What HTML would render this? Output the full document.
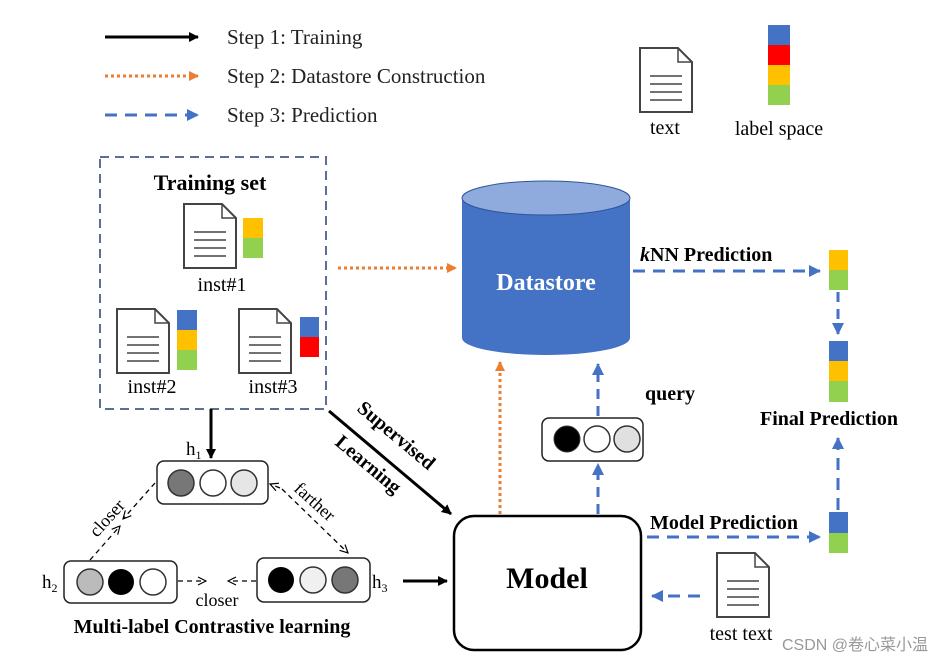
<!DOCTYPE html>
<html><head><meta charset="utf-8"><style>
html,body{margin:0;padding:0;background:#fff;}
svg{display:block;font-family:"Liberation Serif",serif;}
</style></head><body>
<svg width="931" height="662" viewBox="0 0 931 662" xmlns="http://www.w3.org/2000/svg">
<defs>
<marker id="ab" markerWidth="10" markerHeight="10" refX="9" refY="5" orient="auto" markerUnits="userSpaceOnUse"><path d="M0,0 L10,5 L0,10 z" fill="#000"/></marker>
<marker id="ao" markerWidth="10" markerHeight="10" refX="9" refY="5" orient="auto" markerUnits="userSpaceOnUse"><path d="M0,0 L10,5 L0,10 z" fill="#ed7d31"/></marker>
<marker id="al" markerWidth="12" markerHeight="12" refX="11" refY="6" orient="auto" markerUnits="userSpaceOnUse"><path d="M0,0 L12,6 L0,12 z" fill="#4472c4"/></marker>
<marker id="ad" markerWidth="10" markerHeight="10" refX="9" refY="5" orient="auto" markerUnits="userSpaceOnUse"><path d="M1,1 L9,5 L1,9" fill="none" stroke="#000" stroke-width="1.2"/></marker>
<g id="doc"><path d="M0,0 H38 L52,14 V64 H0 Z" fill="#fff" stroke="#444" stroke-width="2"/><path d="M38,0 V14 H52" fill="none" stroke="#444" stroke-width="1.5"/><g stroke="#444" stroke-width="1.5"><line x1="10" y1="28" x2="42" y2="28"/><line x1="10" y1="36" x2="42" y2="36"/><line x1="10" y1="44" x2="42" y2="44"/><line x1="10" y1="52" x2="42" y2="52"/></g></g>
</defs>
<!-- legend -->
<line x1="105" y1="37" x2="198" y2="37" stroke="#000" stroke-width="3" marker-end="url(#ab)"/>
<line x1="105" y1="76" x2="198" y2="76" stroke="#ed7d31" stroke-width="3" stroke-dasharray="3,3" marker-end="url(#ao)"/>
<line x1="105" y1="115" x2="198" y2="115" stroke="#4472c4" stroke-width="3" stroke-dasharray="12,8" marker-end="url(#al)"/>
<g font-size="21" fill="#222"><text x="227" y="44">Step 1: Training</text><text x="227" y="83">Step 2: Datastore Construction</text><text x="227" y="122">Step 3: Prediction</text></g>
<use href="#doc" x="640" y="48"/>
<text x="665" y="134" font-size="20" text-anchor="middle">text</text>
<rect x="768" y="25" width="22" height="20" fill="#4472c4"/><rect x="768" y="45" width="22" height="20" fill="#f00"/><rect x="768" y="65" width="22" height="20" fill="#ffc000"/><rect x="768" y="85" width="22" height="20" fill="#92d050"/>
<text x="779" y="135" font-size="20" text-anchor="middle">label space</text>
<!-- training set -->
<rect x="100" y="157" width="226" height="252" fill="none" stroke="#5a6f93" stroke-width="2" stroke-dasharray="9,6"/>
<text x="210" y="190" font-size="22" font-weight="bold" text-anchor="middle">Training set</text>
<use href="#doc" x="184" y="204"/>
<rect x="243" y="218" width="20" height="20" fill="#ffc000"/><rect x="243" y="238" width="20" height="20" fill="#92d050"/>
<text x="222" y="291" font-size="20" text-anchor="middle">inst#1</text>
<use href="#doc" x="117" y="309"/>
<rect x="177" y="310" width="20" height="20" fill="#4472c4"/><rect x="177" y="330" width="20" height="20" fill="#ffc000"/><rect x="177" y="350" width="20" height="20" fill="#92d050"/>
<text x="152" y="393" font-size="20" text-anchor="middle">inst#2</text>
<use href="#doc" x="239" y="309"/>
<rect x="300" y="317" width="19" height="20" fill="#4472c4"/><rect x="300" y="337" width="19" height="20" fill="#f00"/>
<text x="273" y="393" font-size="20" text-anchor="middle">inst#3</text>
<!-- datastore -->
<line x1="338" y1="268" x2="456" y2="268" stroke="#ed7d31" stroke-width="3" stroke-dasharray="3,3" marker-end="url(#ao)"/>
<path d="M462,198 V338 A84,17 0 0 0 630,338 V198 Z" fill="#4472c4"/>
<ellipse cx="546" cy="198" rx="84" ry="17" fill="#8faadc" stroke="#2f5597" stroke-width="1"/>
<text x="546" y="290" font-size="24" font-weight="bold" fill="#fff" text-anchor="middle">Datastore</text>
<text x="640" y="261" font-size="20" font-weight="bold"><tspan font-style="italic">k</tspan>NN Prediction</text>
<line x1="633" y1="271" x2="820" y2="271" stroke="#4472c4" stroke-width="3" stroke-dasharray="12,8" marker-end="url(#al)"/>
<rect x="829" y="250" width="19" height="20" fill="#ffc000"/><rect x="829" y="270" width="19" height="20" fill="#92d050"/>
<line x1="838" y1="292" x2="838" y2="334" stroke="#4472c4" stroke-width="3" stroke-dasharray="10,7" marker-end="url(#al)"/>
<rect x="829" y="341" width="19" height="20" fill="#4472c4"/><rect x="829" y="361" width="19" height="20" fill="#ffc000"/><rect x="829" y="381" width="19" height="21" fill="#92d050"/>
<text x="829" y="425" font-size="20" font-weight="bold" text-anchor="middle">Final Prediction</text>
<line x1="838" y1="510" x2="838" y2="438" stroke="#4472c4" stroke-width="3" stroke-dasharray="12,8" marker-end="url(#al)"/>
<rect x="829" y="512" width="19" height="21" fill="#4472c4"/><rect x="829" y="533" width="19" height="20" fill="#92d050"/>
<text x="650" y="529" font-size="20" font-weight="bold">Model Prediction</text>
<line x1="647" y1="537" x2="820" y2="537" stroke="#4472c4" stroke-width="3" stroke-dasharray="12,8" marker-end="url(#al)"/>
<use href="#doc" x="717" y="553"/>
<text x="741" y="640" font-size="20" text-anchor="middle">test text</text>
<line x1="700" y1="596" x2="652" y2="596" stroke="#4472c4" stroke-width="3" stroke-dasharray="12,8" marker-end="url(#al)"/>
<text x="782" y="650" font-size="16" fill="#999" font-family="Liberation Sans,'Noto Sans CJK SC',sans-serif">CSDN @卷心菜小温</text>
<!-- model -->
<rect x="454" y="516" width="187" height="134" rx="20" fill="#fff" stroke="#000" stroke-width="2.5"/>
<text x="547" y="588" font-size="30" font-weight="bold" text-anchor="middle">Model</text>
<line x1="500" y1="514" x2="500" y2="362" stroke="#ed7d31" stroke-width="3" stroke-dasharray="3,3" marker-end="url(#ao)"/>
<line x1="598" y1="514" x2="598" y2="464" stroke="#4472c4" stroke-width="3" stroke-dasharray="10,7" marker-end="url(#al)"/>
<rect x="542" y="418" width="101" height="43" rx="7" fill="#fff" stroke="#222" stroke-width="1.5"/>
<circle cx="567" cy="439" r="13" fill="#000" stroke="#333"/><circle cx="597" cy="439" r="13" fill="#fff" stroke="#333" stroke-width="1.5"/><circle cx="627" cy="439" r="13" fill="#e0e0e0" stroke="#333" stroke-width="1.5"/>
<line x1="598" y1="416" x2="598" y2="364" stroke="#4472c4" stroke-width="3" stroke-dasharray="10,7" marker-end="url(#al)"/>
<text x="645" y="400" font-size="20" font-weight="bold">query</text>
<!-- supervised -->
<line x1="329" y1="411" x2="451" y2="514" stroke="#000" stroke-width="3" marker-end="url(#ab)"/>
<text transform="translate(356,410) rotate(40)" font-size="20" font-weight="bold">Supervised</text>
<text transform="translate(334,444) rotate(40)" font-size="20" font-weight="bold">Learning</text>
<!-- contrastive -->
<line x1="211" y1="409" x2="211" y2="458" stroke="#000" stroke-width="3" marker-end="url(#ab)"/>
<text x="186" y="455" font-size="19">h<tspan font-size="12" dy="4">1</tspan></text>
<rect x="157" y="461" width="111" height="43" rx="7" fill="#fff" stroke="#222" stroke-width="1.5"/>
<circle cx="181" cy="483" r="13" fill="#777" stroke="#333" stroke-width="1.5"/><circle cx="213" cy="483" r="13" fill="#fff" stroke="#333" stroke-width="1.5"/><circle cx="244" cy="483" r="13" fill="#e6e6e6" stroke="#333" stroke-width="1.5"/>
<rect x="64" y="561" width="113" height="42" rx="7" fill="#fff" stroke="#222" stroke-width="1.5"/>
<circle cx="90" cy="582" r="13" fill="#bbb" stroke="#333" stroke-width="1.5"/><circle cx="121" cy="582" r="13" fill="#000"/><circle cx="153" cy="582" r="13" fill="#fff" stroke="#333" stroke-width="1.5"/>
<text x="42" y="588" font-size="19">h<tspan font-size="12" dy="4">2</tspan></text>
<rect x="257" y="558" width="113" height="44" rx="7" fill="#fff" stroke="#222" stroke-width="1.5"/>
<circle cx="281" cy="580" r="13" fill="#000"/><circle cx="313" cy="580" r="13" fill="#f0f0f0" stroke="#333" stroke-width="1.5"/><circle cx="345" cy="580" r="13" fill="#777" stroke="#333" stroke-width="1.5"/>
<text x="372" y="588" font-size="19">h<tspan font-size="12" dy="4">3</tspan></text>
<line x1="403" y1="581" x2="447" y2="581" stroke="#000" stroke-width="3" marker-end="url(#ab)"/>
<g stroke="#000" stroke-width="1.3" stroke-dasharray="5,4" fill="none">
<line x1="155" y1="483" x2="123" y2="519" marker-end="url(#ad)"/>
<line x1="90" y1="560" x2="120" y2="526" marker-end="url(#ad)"/>
<line x1="280" y1="488" x2="270" y2="484" marker-end="url(#ad)"/>
<line x1="282" y1="489" x2="348" y2="553" marker-end="url(#ad)"/>
<line x1="178" y1="581" x2="206" y2="581" marker-end="url(#ad)"/>
<line x1="256" y1="581" x2="228" y2="581" marker-end="url(#ad)"/>
</g>
<text transform="translate(97,538) rotate(-48)" font-size="18">closer</text>
<text transform="translate(293,490) rotate(42)" font-size="18">farther</text>
<text x="217" y="606" font-size="18" text-anchor="middle">closer</text>
<text x="212" y="633" font-size="20" font-weight="bold" text-anchor="middle">Multi-label Contrastive learning</text>
</svg>
</body></html>
